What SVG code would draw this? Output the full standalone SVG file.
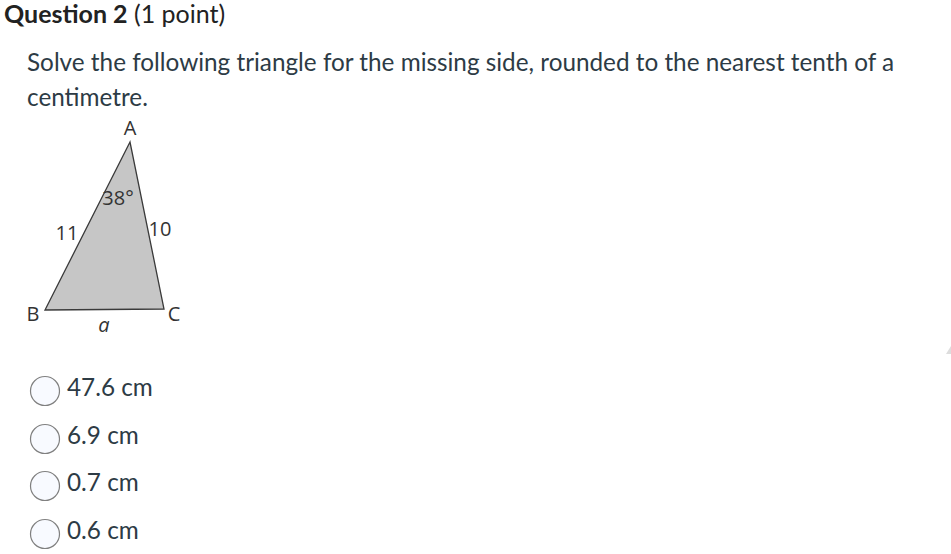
<svg xmlns="http://www.w3.org/2000/svg" width="951" height="554" viewBox="0 0 951 554">
<style>
.t{font-family:Lato,"Open Sans","Liberation Sans",sans-serif;fill:#2d3b45;font-size:24.3px}
.d{font-family:"Open Sans","Noto Sans","Liberation Sans",sans-serif;fill:#333;font-size:20px}
.r{fill:#f8faff;stroke:#808080;stroke-width:1.2}
</style>
<rect width="951" height="554" fill="#fff"/>
<text class="t" x="4" y="23" style="fill:#222;font-size:25px"><tspan font-weight="bold">Question 2</tspan> (1 point)</text>
<text class="t" x="27" y="71">Solve the following triangle for the missing side, rounded to the nearest tenth of a</text>
<text class="t" x="27" y="106">centimetre.</text>
<g id="triangle">
<polygon points="130,142 45,310 164,309" fill="#c6c6c6" stroke="#3a3a3a" stroke-width="1.3"/>
<text class="d" x="130" y="135" text-anchor="middle">A</text>
<text class="d" x="118" y="205" text-anchor="middle">38°</text>
<text class="d" x="67" y="240" text-anchor="middle">11</text>
<text class="d" x="160" y="236" text-anchor="middle">10</text>
<text class="d" x="33" y="321" text-anchor="middle">B</text>
<text class="d" x="174" y="321" text-anchor="middle">C</text>
<text class="d" x="104" y="332" text-anchor="middle" font-style="italic">a</text>
</g>
<g id="opt1"><circle class="r" cx="45" cy="391" r="14.5"/><text class="t" x="67" y="396">47.6 cm</text></g>
<g id="opt2"><circle class="r" cx="45" cy="439" r="14.5"/><text class="t" x="67" y="444">6.9 cm</text></g>
<g id="opt3"><circle class="r" cx="45" cy="486" r="14.5"/><text class="t" x="67" y="491">0.7 cm</text></g>
<g id="opt4"><circle class="r" cx="45" cy="534" r="14.5"/><text class="t" x="67" y="539">0.6 cm</text></g>
<path d="M946,354 L951,346 L951,354 Z" fill="#ddd"/>
</svg>
